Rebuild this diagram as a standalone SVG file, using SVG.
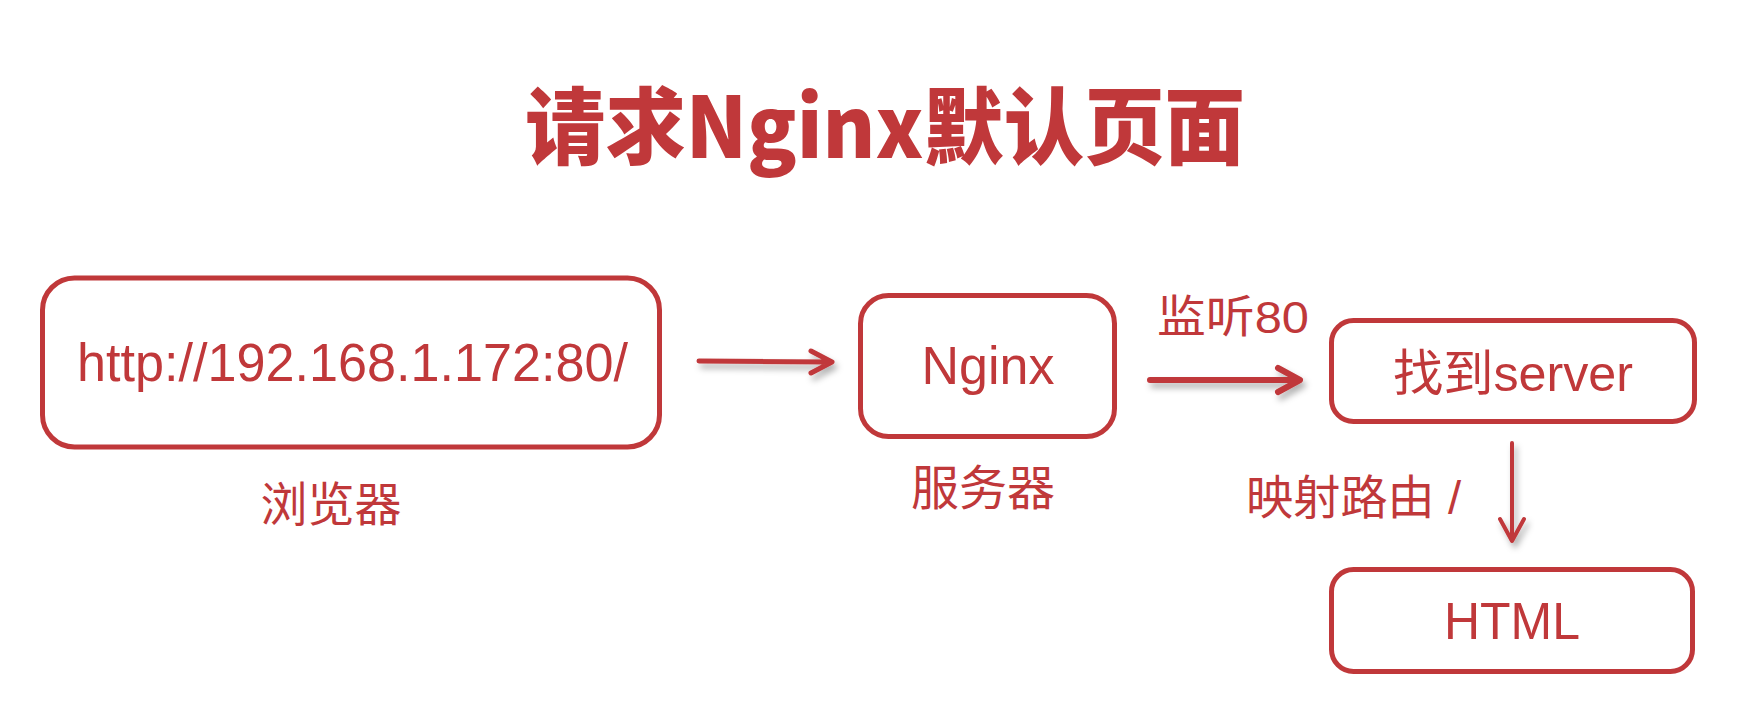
<svg xmlns="http://www.w3.org/2000/svg" width="1751" height="725" viewBox="0 0 1751 725">
  <style>
    .box { fill: #ffffff; stroke: #c0383a; stroke-width: 5; }
    .t { fill: #c0383a; font-family: "Liberation Sans", "Noto Sans CJK SC", sans-serif; }
    .cjk { fill: #c0383a; font-family: "Noto Sans CJK SC", "Liberation Sans", sans-serif; }
    .conn { fill: none; stroke: #c0383a; stroke-linecap: round; stroke-linejoin: round; }
  </style>
  <defs>
    <filter id="sh" x="-20%" y="-50%" width="150%" height="250%">
      <feDropShadow dx="3" dy="5" stdDeviation="3" flood-color="#000" flood-opacity="0.3"/>
    </filter>
  </defs>
  <rect x="0" y="0" width="1751" height="725" fill="#ffffff"/>

  <g id="title">
    <text class="cjk" x="885" y="158" font-size="84" font-weight="900" text-anchor="middle" textLength="720" lengthAdjust="spacingAndGlyphs">请求Nginx默认页面</text>
  </g>

  <g id="browser">
    <rect class="box" x="42.5" y="278" width="617" height="169" rx="32"/>
    <text class="t" x="77" y="381" font-size="54" textLength="551" lengthAdjust="spacingAndGlyphs">http://192.168.1.172:80/</text>
    <text class="cjk" x="331" y="521" font-size="47" text-anchor="middle">浏览器</text>
  </g>

  <g id="nginx">
    <rect class="box" x="860.5" y="295.5" width="254" height="141" rx="28"/>
    <text class="t" x="988" y="384" font-size="54" text-anchor="middle" textLength="133" lengthAdjust="spacingAndGlyphs">Nginx</text>
    <text class="cjk" x="983" y="505" font-size="48" text-anchor="middle">服务器</text>
  </g>

  <g id="server">
    <rect class="box" x="1331.5" y="320.5" width="363" height="101" rx="22"/>
    <text class="t" x="1513" y="391" font-size="50" text-anchor="middle" textLength="240" lengthAdjust="spacingAndGlyphs">找到server</text>
  </g>

  <g id="html">
    <rect class="box" x="1331.5" y="569.5" width="361" height="102" rx="22"/>
    <text class="t" x="1512" y="639" font-size="52" text-anchor="middle" textLength="136" lengthAdjust="spacingAndGlyphs">HTML</text>
  </g>

  <g id="connectors">
    <g filter="url(#sh)">
      <path class="conn" stroke-width="5" d="M699 361 L831 362 M811 351 L832 362 L811 373"/>
      <path class="conn" stroke-width="6" d="M1150 380 L1299 380 M1278 368 L1300 380 L1278 392"/>
      <path class="conn" stroke-width="4" d="M1512 443 L1512 540 M1500 519 L1512 541 L1524 519"/>
    </g>
    <text class="t" x="1233" y="333" font-size="45" text-anchor="middle" textLength="152" lengthAdjust="spacingAndGlyphs">监听80</text>
    <text class="t" x="1246" y="514" font-size="47" textLength="215" lengthAdjust="spacingAndGlyphs">映射路由 /</text>
  </g>
</svg>
